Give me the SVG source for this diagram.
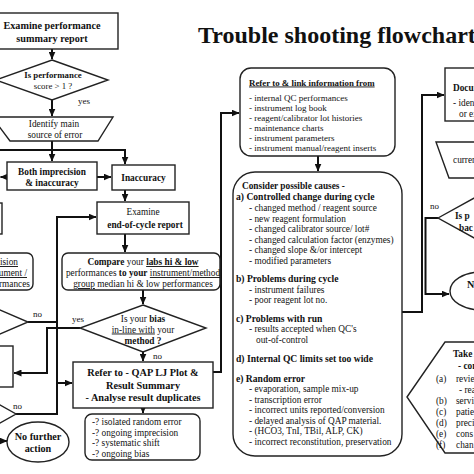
<svg xmlns="http://www.w3.org/2000/svg" width="474" height="474" viewBox="0 0 474 474">
<style>
text{font-family:"Liberation Serif","Times New Roman",serif;fill:#111;font-size:9.3px}
.b{font-weight:bold}
.c{text-anchor:middle}
.e{text-anchor:end}
.u{text-decoration:underline}
.box{fill:#fff;stroke:#222;stroke-width:1.4}
.ln{fill:none;stroke:#111;stroke-width:2}
.ar{marker-end:url(#ah)}
.t10{font-size:10.2px}
.t9{font-size:9px}
</style>
<defs>
<marker id="ah" markerWidth="8" markerHeight="7" refX="7.5" refY="3.5" orient="auto" markerUnits="userSpaceOnUse"><path d="M0,0L8,3.5L0,7z" fill="#111"/></marker>
</defs>
<rect x="0" y="0" width="474" height="474" fill="#fff"/>

<text x="198" y="43" class="b" style="font-size:24px">Trouble shooting flowchart</text>

<g id="connectors">
<path class="ln ar" d="M52,49V59"/>
<path class="ln ar" d="M52,100V116"/>
<path class="ln ar" d="M52,141V161"/>
<path class="ln ar" d="M0,150H125V164"/>
<path class="ln ar" d="M7,177H0.5"/>
<path class="ln ar" d="M97,177H111"/>
<path class="ln ar" d="M125,190V201"/>
<path class="ln ar" d="M125,234V252"/>
<path class="ln ar" d="M143,290V304"/>
<path class="ln ar" d="M143,352V361"/>
<path class="ln ar" d="M143,408V413"/>
<path class="ln ar" d="M28,322H57V217H96"/>
<path class="ln ar" d="M57,322V383H72"/>
<path class="ln" d="M16,414H57V383"/>
<path class="ln ar" d="M80,328H47V373H14"/>
<path class="ln ar" d="M0,441H7"/>
<path class="ln ar" d="M213,372H221V113H239"/>
<path class="ln ar" d="M318,156V171"/>
<path class="ln ar" d="M402,312H422V95H444"/>
<path class="ln ar" d="M438,218H425.5V294H449"/>
<text x="78" y="104" class="t9">yes</text>
<text x="72" y="322" class="t9">yes</text>
<text x="33" y="317" class="t9">no</text>
<text x="153" y="359" class="t9">no</text>
<text x="13" y="409" class="t9">no</text>
<text x="430" y="209" class="t9">no</text>
</g>

<g id="n-exam-perf">
<rect class="box" x="-5" y="13" width="123" height="36"/>
<text x="52" y="28.5" class="b c t10">Examine performance</text>
<text x="52" y="41.5" class="b c t10">summary report</text>
</g>

<g id="n-score">
<polygon class="box" points="52,60 108,80 52,100 -4,80"/>
<text x="53" y="78" class="b c" style="font-size:8.8px">Is  performance</text>
<text x="53" y="89" class="c" style="font-size:8.8px">score &gt; 1 ?</text>
</g>

<g id="n-identify">
<polygon class="box" points="-8,117 113,117 98,141 10,141"/>
<text x="54" y="127" class="c">Identify main</text>
<text x="55" y="137.5" class="c">source of error</text>
</g>

<g id="n-both">
<rect class="box" x="7" y="162" width="90" height="28"/>
<text x="52" y="174.5" class="b c">Both imprecision</text>
<text x="52" y="186" class="b c">&amp; inaccuracy</text>
</g>

<g id="n-inacc">
<rect class="box" x="112" y="165" width="63" height="25"/>
<text x="143.5" y="181" class="b c">Inaccuracy</text>
</g>

<g id="n-left-box1">
<rect class="box" x="-60" y="203" width="62" height="31"/>
</g>

<g id="n-exam-cycle">
<rect class="box" x="97" y="202" width="92" height="32"/>
<text x="143" y="215" class="c">Examine</text>
<text x="145" y="228" class="b c">end-of-cycle report</text>
</g>

<g id="n-left-imprec">
<rect class="box" x="-80" y="253" width="113" height="37" rx="6"/>
<text x="18" y="265" class="e u">ision</text>
<text x="27" y="276" class="e u">ument /</text>
<text x="30" y="287" class="e">rformances</text>
</g>

<g id="n-compare">
<rect class="box" x="62" y="253" width="158" height="37" rx="6"/>
<text x="143" y="265" class="c"><tspan class="b">Compare</tspan> your <tspan class="b u">labs hi &amp; low</tspan></text>
<text x="143" y="276" class="c">performances <tspan class="b">to your</tspan> <tspan class="u">instrument/method</tspan></text>
<text x="143" y="287" class="c"><tspan class="u">group</tspan> median hi  &amp; low  performances</text>
</g>

<g id="n-left-diamond1">
<polygon class="box" points="-30,322 0,310 28,322 0,334"/>
</g>

<g id="n-bias">
<polygon class="box" points="143,305 206,328 143,352 80,328"/>
<text x="143" y="322" class="c">Is your <tspan class="b">bias</tspan></text>
<text x="143" y="332.5" class="c"><tspan class="u">in-line with</tspan> your</text>
<text x="143" y="343.5" class="b c">method ?</text>
</g>

<g id="n-left-box2">
<rect class="box" x="-60" y="346" width="73" height="41"/>
</g>

<g id="n-left-diamond2">
<polygon class="box" points="-30,414 0,405 16,414 0,423"/>
</g>

<g id="n-refer-qap">
<rect class="box" x="73" y="362" width="140" height="46"/>
<text x="143" y="376" class="b c" style="font-size:10.3px">Refer to - QAP LJ Plot &amp;</text>
<text x="143" y="388.5" class="b c" style="font-size:10.3px">Result Summary</text>
<text x="143" y="400.5" class="b c" style="font-size:10.3px">- Analyse result duplicates</text>
</g>

<g id="n-outcomes">
<rect class="box" x="85" y="414" width="115" height="46" rx="7"/>
<text x="92" y="425">-? isolated  random error</text>
<text x="92" y="435.5">-? ongoing imprecision</text>
<text x="92" y="446">-? systematic shift</text>
<text x="92" y="456.5">-? ongoing bias</text>
</g>

<g id="n-nofurther">
<ellipse class="box" cx="38" cy="442" rx="31" ry="20"/>
<text x="38" y="440" class="b c t10">No further</text>
<text x="38" y="452" class="b c t10">action</text>
</g>

<g id="n-refer-link">
<rect class="box" x="240" y="68" width="155" height="88" rx="11"/>
<text x="249" y="85.5" class="b u" style="font-size:8.9px">Refer to &amp; link information from</text>
<text x="249" y="101" class="t9">- internal QC performances</text>
<text x="249" y="111" class="t9">- instrument log book</text>
<text x="249" y="121" class="t9">- reagent/calibrator lot histories</text>
<text x="249" y="131" class="t9">- maintenance charts</text>
<text x="249" y="141" class="t9">- instrument parameters</text>
<text x="249" y="151" class="t9">- instrument manual/reagent inserts</text>
</g>

<g id="n-causes">
<rect class="box" x="233" y="172" width="169" height="284" rx="22"/>
<text x="242" y="189" class="b">Consider possible causes -</text>
<text x="236" y="200" class="b" style="font-size:9.6px">a)  Controlled change during cycle</text>
<text x="249" y="211">- changed method / reagent source</text>
<text x="249" y="221.5">- new reagent formulation</text>
<text x="249" y="232">- changed calibrator source/ lot#</text>
<text x="249" y="242.5">- changed calculation factor (enzymes)</text>
<text x="249" y="253">- changed slope &amp;/or intercept</text>
<text x="249" y="263.5">- modified parameters</text>
<text x="236" y="282" class="b" style="font-size:9.6px">b) Problems during cycle</text>
<text x="249" y="292.5">- instrument failures</text>
<text x="249" y="303">- poor reagent lot no.</text>
<text x="236" y="321.5" class="b" style="font-size:9.6px">c)  Problems with run</text>
<text x="249" y="332">- results accepted when QC's</text>
<text x="256" y="342.5">out-of-control</text>
<text x="236" y="362" class="b" style="font-size:9.6px">d)  Internal QC limits set too wide</text>
<text x="236" y="381.5" class="b" style="font-size:9.6px">e)   Random error</text>
<text x="249" y="392">- evaporation, sample mix-up</text>
<text x="249" y="402.5">- transcription error</text>
<text x="249" y="413">- incorrect units reported/conversion</text>
<text x="249" y="423.5">- delayed analysis of QAP material.</text>
<text x="249" y="434">- (HCO3, TnI, TBil, ALP, CK)</text>
<text x="249" y="444.5">- incorrect reconstitution,  preservation</text>
</g>

<g id="n-document">
<rect class="box" x="445" y="68" width="60" height="53"/>
<text x="453" y="91" class="b">Docum</text>
<text x="453" y="106">- iden</text>
<text x="459" y="117">or ex</text>
</g>

<g id="n-current">
<polygon class="box" points="436,142 490,142 490,178 449,178"/>
<text x="453" y="163">curren</text>
</g>

<g id="n-back">
<polygon class="box" points="438,218 485,192 532,218 485,244"/>
<text x="455" y="219" class="b">Is p</text>
<text x="459" y="231" class="b">bac</text>
</g>

<g id="n-nofurther2">
<ellipse class="box" cx="481" cy="291" rx="31" ry="19"/>
<text x="467" y="288" class="b t10">N</text>
</g>

<g id="n-action">
<polygon class="box" points="407,397 445,342 490,342 490,453 445,453"/>
<text x="453" y="357" class="b">Take A</text>
<text x="458" y="369" class="b">- con</text>
<text x="436" y="382">(a)</text><text x="456" y="382">revie</text>
<text x="459" y="393">- reag</text>
<text x="436" y="404">(b)</text><text x="456" y="404">servi</text>
<text x="436" y="415">(c)</text><text x="456" y="415">patie</text>
<text x="436" y="426">(d)</text><text x="456" y="426">preci</text>
<text x="436" y="437">(e)</text><text x="456" y="437">cons</text>
<text x="436" y="448">(f)</text><text x="456" y="448">chan</text>
</g>
</svg>
